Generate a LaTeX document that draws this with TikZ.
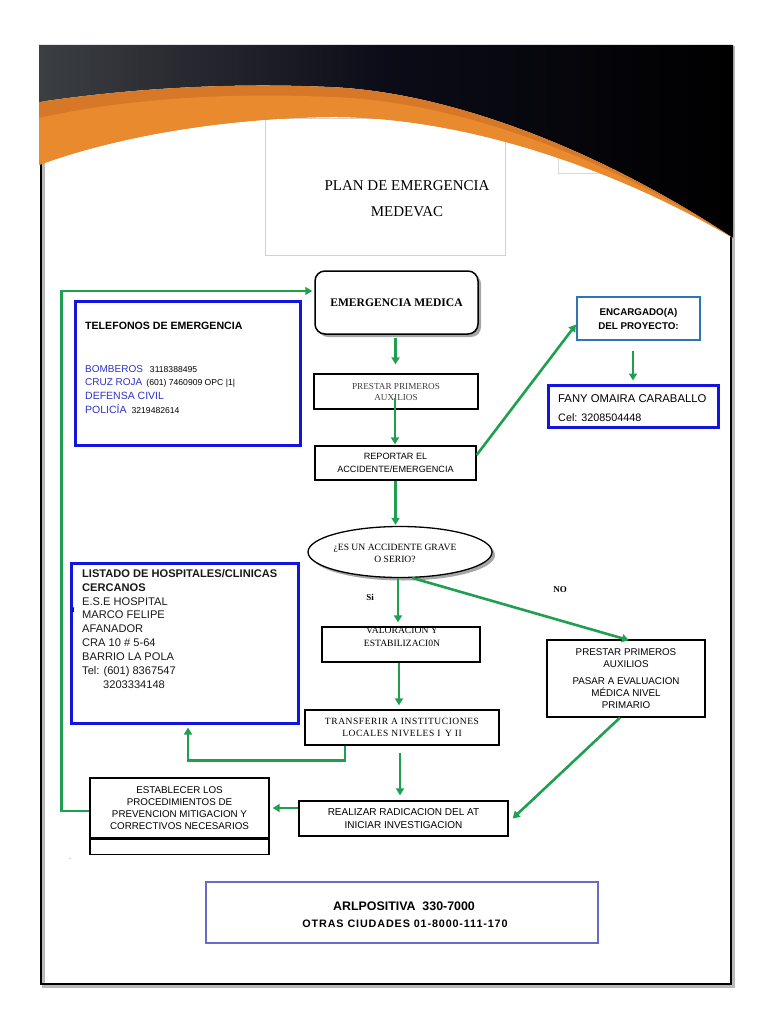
\documentclass[tikz,border=0pt]{standalone}
\usepackage{fontspec}
\setmainfont{Liberation Serif}
\newfontfamily\arial{Liberation Sans}
\newfontfamily\arialsp[LetterSpace=8]{Liberation Sans}
\newfontfamily\timessp[LetterSpace=6]{Liberation Serif}
\usetikzlibrary{arrows.meta,shapes.geometric,calc,shadows}
\definecolor{grn}{RGB}{30,160,80}
\definecolor{bblue}{RGB}{20,20,225}
\definecolor{sblue}{RGB}{46,117,182}
\definecolor{lblue}{RGB}{50,50,200}
\definecolor{arlb}{RGB}{105,105,200}
\definecolor{orng}{RGB}{233,138,46}
\definecolor{orngd}{RGB}{215,120,40}
\definecolor{dgray}{RGB}{60,63,66}
\definecolor{navy}{RGB}{12,12,24}
\tikzset{
  arr/.style={draw=grn, line width=2.6pt, -{Triangle[length=7pt,width=8pt]}},
  bbox/.style={draw=black, line width=1.3pt, fill=white, inner sep=0pt, align=center},
  bluebox/.style={draw=bblue, line width=3pt, inner sep=0pt},
  txt/.style={inner sep=0pt, anchor=base west},
}
\begin{document}
\begin{tikzpicture}[x=1pt,y=-1pt]
\useasboundingbox (0,0) rectangle (768,1024);
\fill[white] (0,0) rectangle (768,1024);
% page frame
\draw[gray!55, line width=3pt] (43,48) rectangle (733.5,986.5);
\draw[black, line width=2.5pt] (41,46) rectangle (731,984);
% title box and small box
\node[draw=gray!35, line width=0.7pt, fill=white, minimum width=240, minimum height=137, anchor=north west] (title) at (265,118) {};
\draw[gray!30, line width=0.7pt] (558,140) rectangle (600,173);
% band
\shade[left color=dgray, right color=black, middle color=navy] (39,45) -- (733,45) -- (733,238) .. controls (600,150) and (450,92) .. (330,87) .. controls (220,82) and (120,90) .. (39,102) -- cycle;
\fill[orngd] (39,102) .. controls (120,90) and (220,82) .. (330,87) .. controls (450,92) and (600,150) .. (733,238) .. controls (600,160) and (450,116) .. (330,117) .. controls (230,118) and (120,135) .. (39,165) -- cycle;
\fill[orng] (39,118) .. controls (120,100) and (220,92) .. (330,97) .. controls (450,100) and (600,154) .. (733,238) .. controls (600,160) and (450,116) .. (330,117) .. controls (230,118) and (120,135) .. (39,165) -- cycle;
\node[inner sep=0pt, font=\fontsize{15}{16}\selectfont] (t1) at (407,186) {PLAN DE EMERGENCIA};
\node[inner sep=0pt, font=\fontsize{15}{16}\selectfont] (t2) at (407,212) {MEDEVAC};

% main flow
\node[bbox, rounded corners=10pt, line width=1.5pt, minimum width=163, minimum height=63, font=\fontsize{11.6}{13}\selectfont\bfseries, drop shadow={shadow xshift=3pt, shadow yshift=-3pt, fill=gray!70, opacity=1}] (em) at (396.5,302.5) {EMERGENCIA MEDICA};
\node[bbox, minimum width=164, minimum height=35, text=black!75, font=\fontsize{9.2}{11}\selectfont] (ppa) at (396,391.5) {PRESTAR PRIMEROS\\AUXILIOS};
\node[bbox, minimum width=161, minimum height=34, font=\arial\fontsize{9.1}{13}\selectfont] (rep) at (395.5,463) {REPORTAR EL\\ACCIDENTE/EMERGENCIA};
\node[draw=black, line width=1.3pt, fill=white, ellipse, inner sep=0pt, minimum width=184, minimum height=51, drop shadow={shadow xshift=3pt, shadow yshift=-3pt, fill=gray!70, opacity=1}] (q) at (400,552) {};
\node[inner sep=0pt, align=center, font=\fontsize{9.6}{12}\selectfont] (qt) at (395,553) {¿ES UN ACCIDENTE GRAVE\\O SERIO?};
\node[bbox, minimum width=158, minimum height=35] (val) at (401,644.5) {};
\node[inner sep=0pt, align=center, font=\fontsize{9.6}{13}\selectfont] (valt) at (402,636.5) {VALORACION Y\\ESTABILIZACI0N};
\node[bbox, minimum width=194, minimum height=35, font=\timessp\fontsize{9.5}{12.5}\selectfont] (trans) at (402,727.5) {TRANSFERIR A INSTITUCIONES\\LOCALES NIVELES I\, Y II};
\node[bbox, minimum width=158, minimum height=77, font=\arial\fontsize{9.8}{12}\selectfont] (pp2) at (626,678.5) {PRESTAR PRIMEROS\\AUXILIOS\\[5pt]PASAR A EVALUACION\\MÉDICA NIVEL\\PRIMARIO};
\node[bbox, minimum width=209, minimum height=35, font=\arial\fontsize{10}{13}\selectfont] (real) at (403.5,818.5) {REALIZAR RADICACION DEL AT\\INICIAR INVESTIGACION};
\node[bbox, minimum width=179, minimum height=60, font=\arial\fontsize{9.8}{12.2}\selectfont] (est) at (179.5,808) {ESTABLECER LOS\\PROCEDIMIENTOS DE\\PREVENCION MITIGACION Y\\CORRECTIVOS NECESARIOS};
\node[bbox, minimum width=179, minimum height=15, anchor=north] (est2) at (est.south) {};
\node[draw=arlb, line width=2pt, minimum width=392, minimum height=61, inner sep=0pt] (arl) at (402,912.5) {};
\node[inner sep=0pt, font=\arial\bfseries\fontsize{12.4}{14}\selectfont] (arl1) at (404,906) {ARLPOSITIVA\ \ 330-7000};
\node[inner sep=0pt, font=\arialsp\bfseries\fontsize{10.8}{12}\selectfont] (arl2) at (405,923.5) {OTRAS CIUDADES 01-8000-111-170};

% side boxes
\node[bluebox, minimum width=225, minimum height=144] (tel) at (187.5,373) {};
\node[txt, font=\arial\bfseries\fontsize{10.6}{12}\selectfont] (telh) at (85,329) {TELEFONOS DE EMERGENCIA};
\node[txt, font=\arial\fontsize{10}{12}\selectfont] (tel1) at (85,372) {\textcolor{lblue}{BOMBEROS}\hspace{7pt}{\fontsize{8.6}{9}\selectfont 3118388495}};
\node[txt, font=\arial\fontsize{10}{12}\selectfont] (tel2) at (85,385) {\textcolor{lblue}{CRUZ ROJA}\hspace{4pt}{\fontsize{8.6}{9}\selectfont (601) 7460909 OPC |1|}};
\node[txt, font=\arial\fontsize{10.5}{12}\selectfont, text=lblue] (tel3) at (85,399) {DEFENSA CIVIL};
\node[txt, font=\arial\fontsize{10.5}{12}\selectfont] (tel4) at (85,413) {\textcolor{lblue}{POLICÍA}\hspace{5pt}{\fontsize{8.6}{9}\selectfont 3219482614}};

\node[bluebox, minimum width=227, minimum height=160] (lst) at (184.5,643) {};
\node[inner sep=0pt, anchor=north west, align=left, text=black!90, font=\arial\fontsize{11.1}{13.9}\selectfont] (lstt) at (82,569) {\textbf{LISTADO DE HOSPITALES/CLINICAS}\\\textbf{CERCANOS}\\E.S.E HOSPITAL\\MARCO FELIPE\\AFANADOR\\CRA 10 \# 5-64\\BARRIO LA POLA\\Tel: (601) 8367547\\\hspace{21pt}3203334148};
\node[inner sep=0pt, font=\fontsize{7}{8}\selectfont\bfseries] (mk1) at (73.5,610) {I};
\node[inner sep=0pt, text=gray, font=\fontsize{6}{7}\selectfont] (mk2) at (70,860) {-};

\node[draw=sblue, line width=2pt, minimum width=123, minimum height=43, inner sep=0pt, align=center, font=\arial\bfseries\fontsize{9.8}{14}\selectfont] (enc) at (638.5,318.5) {ENCARGADO(A)\\DEL PROYECTO:};
\node[bluebox, minimum width=170, minimum height=42] (fany) at (633,406) {};
\node[txt, font=\arial\fontsize{11.3}{12}\selectfont] (fany1) at (558,402) {FANY OMAIRA CARABALLO};
\node[txt, font=\arial\fontsize{10.8}{12}\selectfont] (fany2) at (558,421) {Cel: 3208504448};

% labels
\node[inner sep=0pt, font=\fontsize{9}{10}\selectfont\bfseries] (si) at (370,597) {Si};
\node[inner sep=0pt, font=\fontsize{9}{10}\selectfont\bfseries] (no) at (560,590) {NO};

% connectors
\draw[arr, shorten <=3pt, shorten >=9pt] ([xshift=-1pt]em.south) -- ([xshift=-1pt]em.south |- ppa.north);
\draw[arr, shorten >=1pt] ([xshift=-1pt,yshift=-6.5pt]ppa.center) -- ([xshift=-1pt]ppa.center |- rep.north);
\draw[arr, shorten >=1pt] (rep.south) -- (rep.south |- q.north);
\draw[arr] ([yshift=8pt]rep.east) -- ([yshift=-6pt]enc.west);
\draw[arr, shorten <=10pt, shorten >=3pt] ([xshift=-5.5pt]enc.south) -- ([xshift=-5.5pt]enc.south |- fany.north);
\draw[arr, shorten >=4pt] ([xshift=-2pt]q.south) -- ([xshift=-2pt]q.south |- val.north);
\draw[arr, shorten >=-3pt] (q.-65) -- (pp2.north);
\draw[arr, shorten >=4pt] ([xshift=-2pt]val.south) -- ([xshift=-2pt]val.south |- trans.north);
\draw[arr] ([xshift=-57pt]trans.south) -- ++(0,15) -| ([xshift=3.5pt,yshift=-3pt]lst.south);
\draw[arr, shorten <=7pt, shorten >=5pt] ([xshift=-2pt]trans.south) -- ([xshift=-2pt]trans.south |- real.north);
\draw[arr] ([xshift=-6pt]pp2.south) -- ([xshift=4pt]real.east);
\draw[arr] ([yshift=10.5pt]real.west) -- ([xshift=3pt]est.east);
\draw[arr] ([yshift=-3pt]est.west) -- ++(-28,0) |- ([xshift=-2pt,yshift=11.5pt]em.west);
\end{tikzpicture}
\end{document}
